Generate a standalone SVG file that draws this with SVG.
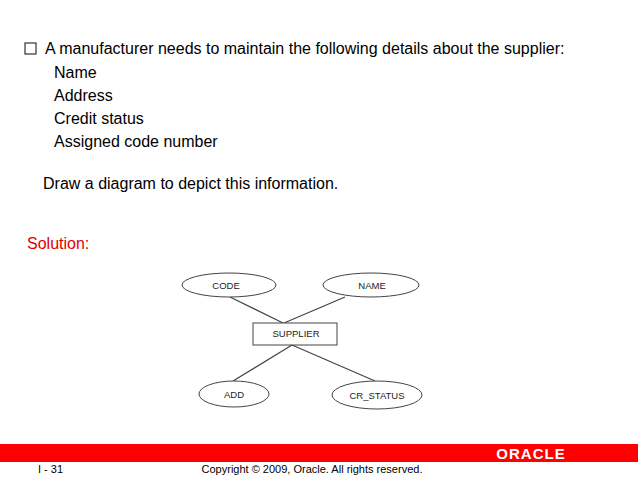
<svg xmlns="http://www.w3.org/2000/svg" width="638" height="478" viewBox="0 0 638 478">
<style>
.t{font-family:"Liberation Sans",Arial,sans-serif;font-size:16px;fill:#000}
.s{font-family:"Liberation Sans",Arial,sans-serif;font-size:9.5px;fill:#222;text-anchor:middle}
.e{fill:#fff;stroke:#444;stroke-width:1}
.c{stroke:#444;stroke-width:1.2}
</style>
<rect width="638" height="478" fill="#fff"/>
<rect x="25" y="43" width="11" height="11" fill="#fff" stroke="#333" stroke-width="1.2"/>
<text class="t" x="45" y="54">A manufacturer needs to maintain the following details about the supplier:</text>
<text class="t" x="54" y="78">Name</text>
<text class="t" x="54" y="101">Address</text>
<text class="t" x="54" y="124">Credit status</text>
<text class="t" x="54" y="147">Assigned code number</text>
<text class="t" x="43" y="189">Draw a diagram to depict this information.</text>
<text class="t" x="27" y="249" style="fill:#e00000">Solution:</text>
<g id="connectors">
<line class="c" x1="230" y1="297" x2="283" y2="323"/>
<line class="c" x1="345" y1="297" x2="284" y2="323"/>
<line class="c" x1="292" y1="345" x2="233" y2="381"/>
<line class="c" x1="292" y1="345" x2="375" y2="381"/>
</g>
<g id="code"><ellipse class="e" cx="229" cy="285" rx="47" ry="12"/><text class="s" x="226" y="289">CODE</text></g>
<g id="name"><ellipse class="e" cx="371" cy="285" rx="48" ry="12"/><text class="s" x="372" y="289">NAME</text></g>
<g id="supplier"><rect class="e" x="253" y="323" width="84" height="22"/><text class="s" x="296" y="337">SUPPLIER</text></g>
<g id="add"><ellipse class="e" cx="234" cy="394" rx="35" ry="13"/><text class="s" x="234" y="398">ADD</text></g>
<g id="crstatus"><ellipse class="e" cx="377" cy="395" rx="45" ry="14"/><text class="s" x="377" y="399">CR_STATUS</text></g>
<rect x="0" y="444" width="638" height="18" fill="#ff0000"/>
<text x="531" y="459" font-family="Liberation Sans,Arial,sans-serif" font-size="15" font-weight="bold" fill="#fff" text-anchor="middle" letter-spacing="1">ORACLE</text>
<text x="38" y="473" font-family="Liberation Sans,Arial,sans-serif" font-size="11" fill="#000">I - 31</text>
<text x="312" y="473" font-family="Liberation Sans,Arial,sans-serif" font-size="11" fill="#000" text-anchor="middle">Copyright © 2009, Oracle. All rights reserved.</text>
</svg>
